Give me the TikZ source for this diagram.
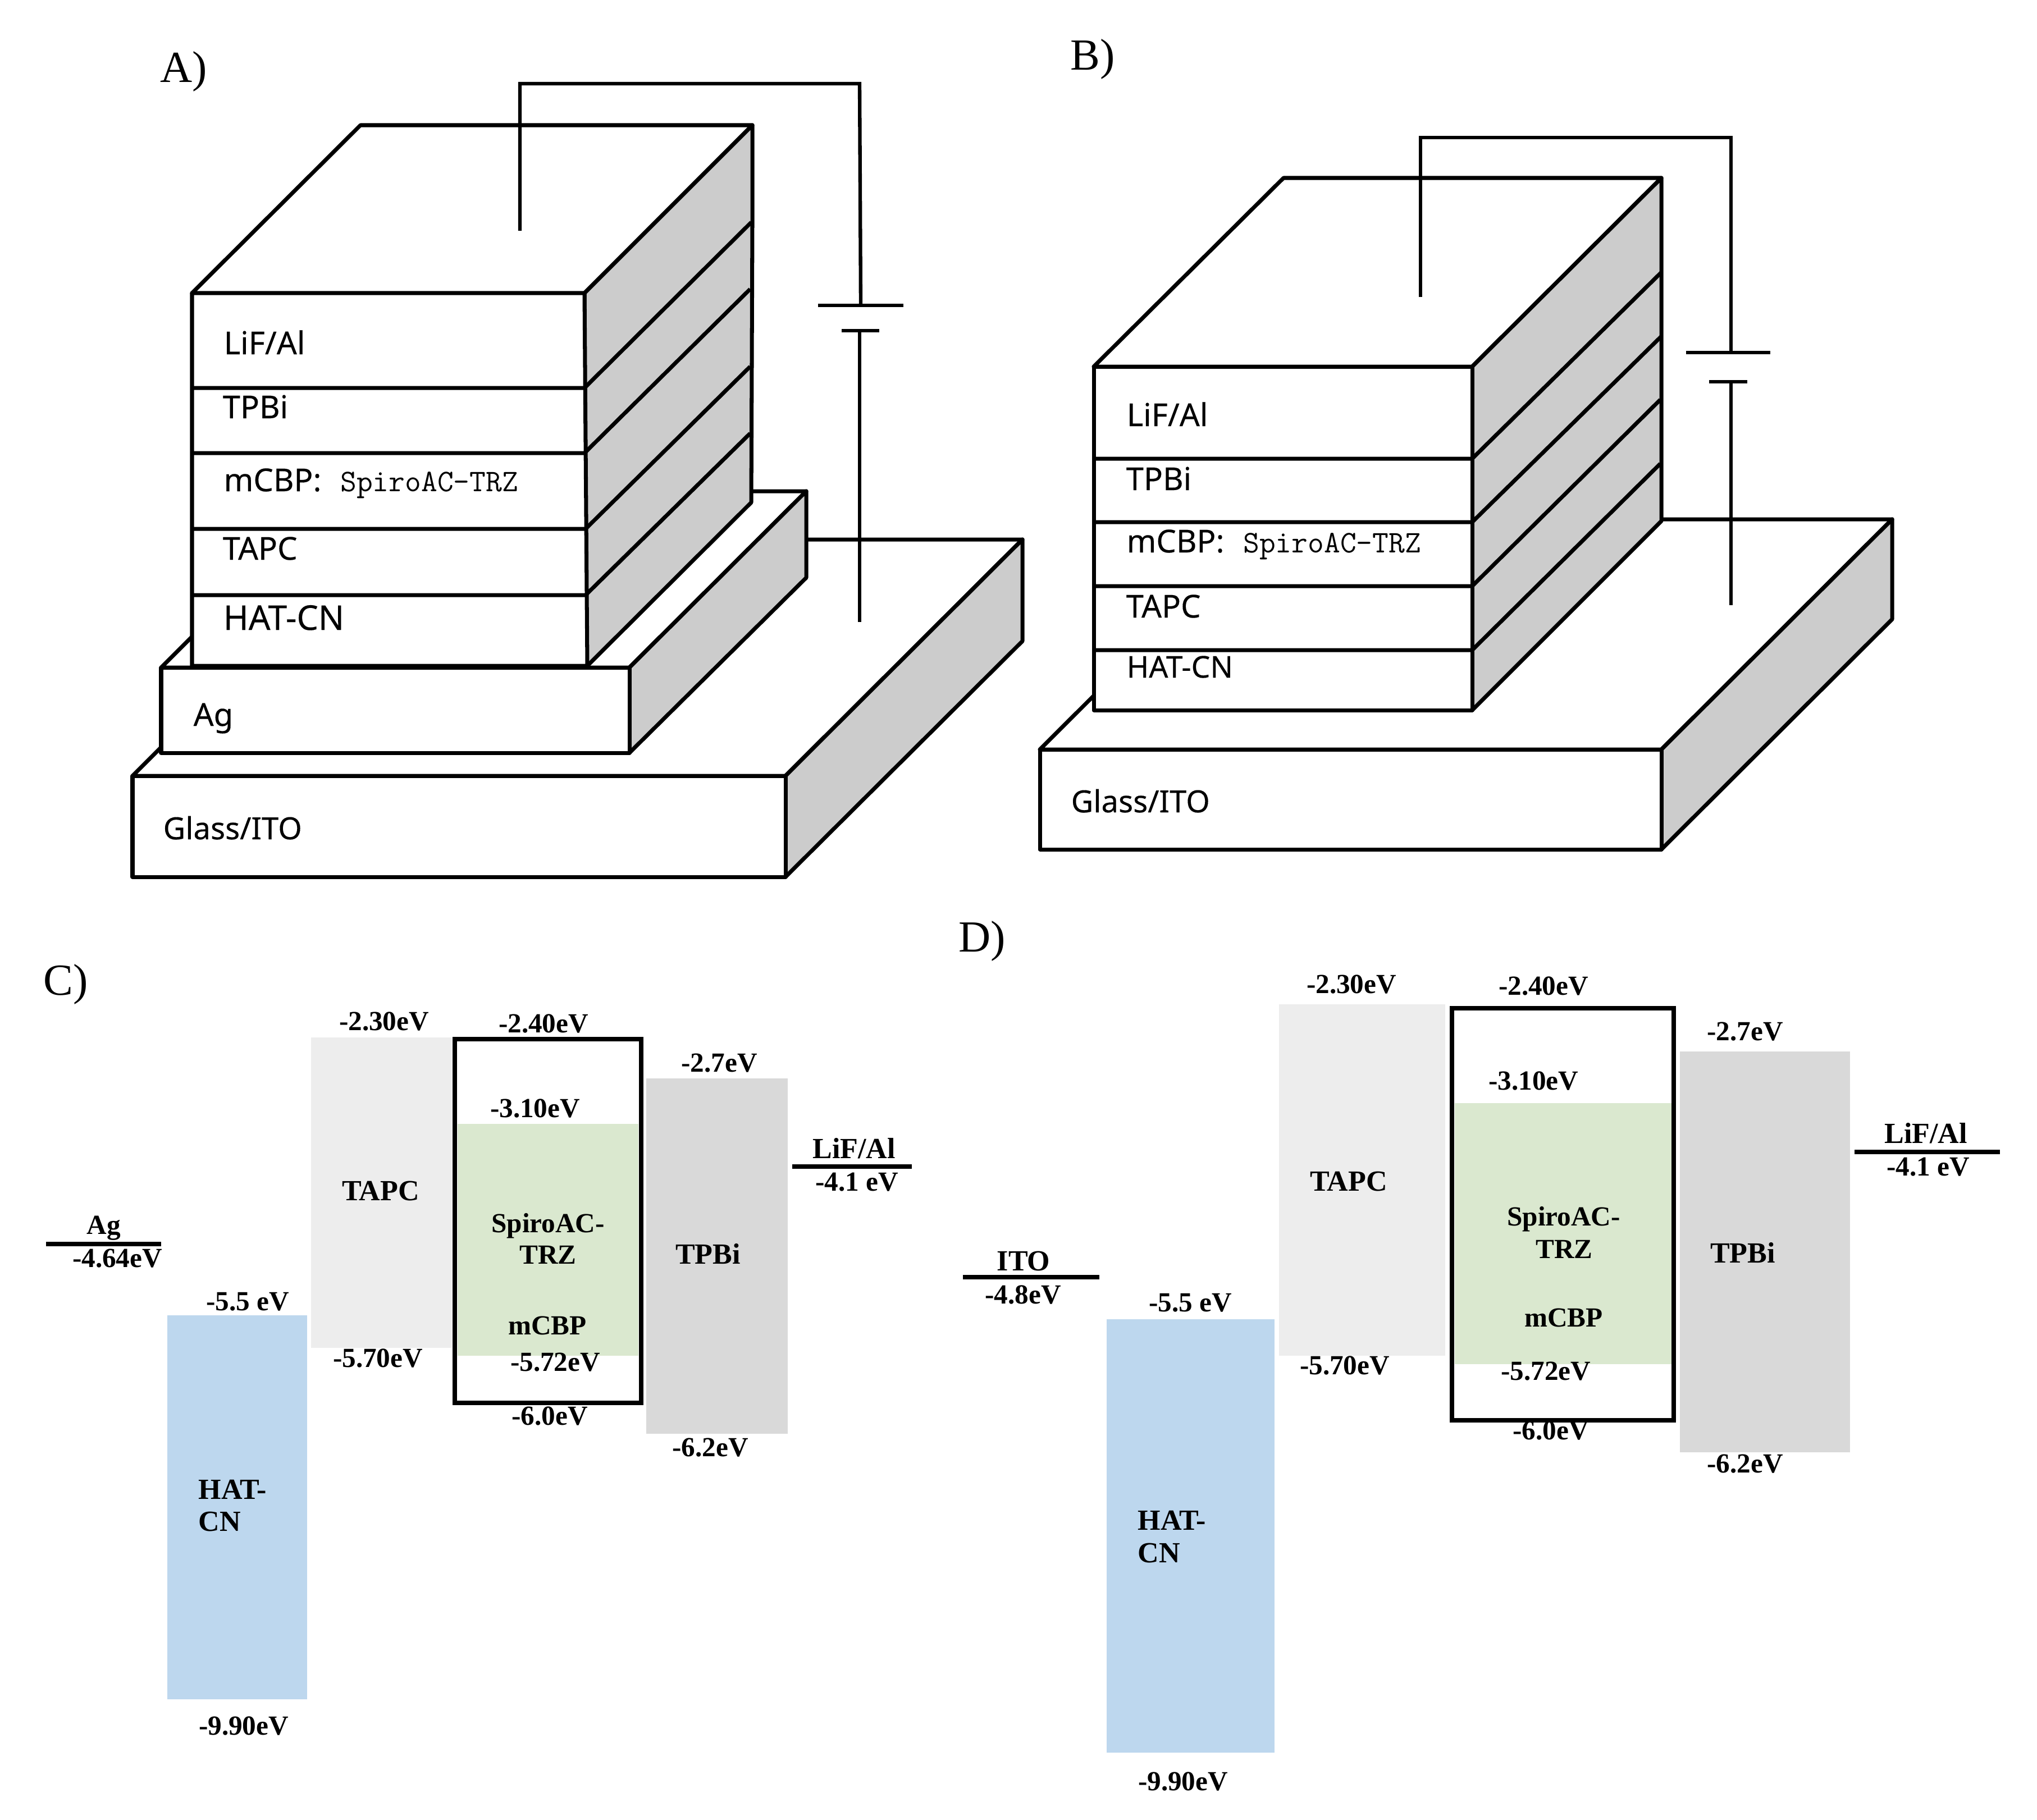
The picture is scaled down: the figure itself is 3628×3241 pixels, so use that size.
\documentclass[tikz,border=0pt]{standalone}
\usepackage{fontspec}
\setmainfont{Liberation Serif}
\newfontfamily\labfont[FakeBold=0.25]{Noto Sans}
\usetikzlibrary{calc}

\definecolor{sidegrey}{HTML}{CCCCCC}
\definecolor{tapcgrey}{HTML}{EDEDED}
\definecolor{tpbigrey}{HTML}{D9D9D9}
\definecolor{hatblue}{HTML}{BDD7EE}
\definecolor{hostgreen}{HTML}{DAE8CF}

\tikzset{
  edge/.style={line width=2pt, line join=round, draw=black},
  side/.style={edge, fill=sidegrey},
  face/.style={edge, fill=white},
  wire/.style={line width=1.8pt, draw=black},
  level/.style={line width=2.1pt, draw=black},
  lab/.style={anchor=base west, inner sep=0pt, font=\labfont\fontsize{16}{19}\selectfont},
  ev/.style={anchor=base, inner sep=0pt, font=\bfseries\fontsize{14}{17}\selectfont},
  evl/.style={ev, anchor=base west},
  mat/.style={ev, font=\bfseries\fontsize{14.8}{17}\selectfont},
  matl/.style={mat, anchor=base west},
  tag/.style={anchor=base west, inner sep=0pt, font=\fontsize{22.5}{27}\selectfont},
}
\newcommand{\emitterlabel}{mCBP:\hspace{0.6em}{\ttfamily\fontsize{15.9}{18}\selectfont SpiroAC-TRZ}}

\begin{document}
\begin{tikzpicture}[x=0.01cm, y=-0.01cm]
\useasboundingbox (0,0) rectangle (3628,3241);

% ---- A
\node[tag] (tagA) at (285,146) {A)};

% glass
\draw[face] (236,1382) -- (658,961) -- (1821,961) -- (1399,1382) -- cycle;
\draw[side] (1399,1382) -- (1821,961) -- (1821,1142) -- (1399,1562) -- cycle;
\draw[face] (236,1382) rectangle (1399,1562);
% Ag
\draw[face] (287,1189) -- (602,875) -- (1436,875) -- (1121,1189) -- cycle;
\draw[side] (1121,1189) -- (1436,875) -- (1436,1029) -- (1121,1341) -- cycle;
\draw[face] (287,1189) rectangle (1121,1341);
% stack
\draw[face] (342,522) -- (642,223) -- (1340,223) -- (1041,522) -- cycle;
\draw[side] (1041,522) -- (1340,223) -- (1340,396) -- (1338,895) -- (1046,1186) -- (1041,1186) -- cycle;
\draw[face] (342,522) -- (1041,522) -- (1046,1186) -- (342,1186) -- cycle;
\draw[edge] (342,691) -- (1041,691) -- (1338,396);
\draw[edge] (342,807) -- (1041,807) -- (1336,515);
\draw[edge] (342,942) -- (1043,942) -- (1336,653);
\draw[edge] (342,1060) -- (1043,1060) -- (1336,772);

% battery
\coordinate (aIn) at (926,411);
\coordinate (aUpL) at (926,149);
\coordinate (aUpR) at (1531,149);
\coordinate (aPos) at (1533,544);
\coordinate (aNeg) at (1531,589);
\coordinate (aOut) at (1531,1108);
\draw[wire] (aIn) -- (aUpL) -- (aUpR) -- (aPos);
\draw[wire] (aNeg) -- (aOut);
\draw[wire] (1457,544) -- (1609,544);
\draw[wire] (1499,589) -- (1566,589);

\node[lab] (aLif) at (398,631) {LiF/Al};
\node[lab] (aTpbi) at (396,745) {TPBi};
\node[lab] (aCbp) at (398,875) {\emitterlabel};
\node[lab] (aTapc) at (396,997) {TAPC};
\node[lab, font=\labfont\fontsize{17.3}{20}\selectfont] (aHat) at (397,1122) {HAT-CN};
\node[lab] (aAg) at (344,1293) {Ag};
\node[lab, font=\labfont\fontsize{15.5}{18}\selectfont] (aGlass) at (290,1495) {Glass/ITO};

% ---- B
\node[tag] (tagB) at (1906,124) {B)};

% glass
\draw[face] (1852,1335) -- (2263,925) -- (3370,925) -- (2959,1335) -- cycle;
\draw[side] (2959,1335) -- (3370,925) -- (3370,1103) -- (2959,1513) -- cycle;
\draw[face] (1852,1335) rectangle (2959,1513);
% stack
\draw[face] (1948,653) -- (2286,317) -- (2959,317) -- (2622,653) -- cycle;
\draw[side] (2622,653) -- (2959,317) -- (2959,928) -- (2622,1265) -- cycle;
\draw[face] (1948,653) rectangle (2622,1265);
\draw[edge] (1948,817) -- (2622,817) -- (2959,485);
\draw[edge] (1948,930) -- (2622,930) -- (2959,599);
\draw[edge] (1948,1044) -- (2622,1044) -- (2957,712);
\draw[edge] (1948,1158) -- (2622,1158) -- (2957,826);

% battery
\coordinate (bIn) at (2530,529);
\coordinate (bUpL) at (2530,245);
\coordinate (bUpR) at (3083,245);
\coordinate (bPos) at (3083,628);
\coordinate (bNeg) at (3083,680);
\coordinate (bOut) at (3083,1078);
\draw[wire] (bIn) -- (bUpL) -- (bUpR) -- (bPos);
\draw[wire] (bNeg) -- (bOut);
\draw[wire] (3003,628) -- (3153,628);
\draw[wire] (3044,680) -- (3112,680);

\node[lab] (bLif) at (2006,759) {LiF/Al};
\node[lab] (bTpbi) at (2005,873) {TPBi};
\node[lab] (bCbp) at (2006,984) {\emitterlabel};
\node[lab] (bTapc) at (2005,1100) {TAPC};
\node[lab, font=\labfont\fontsize{15.2}{18}\selectfont] (bHat) at (2006,1207) {HAT-CN};
\node[lab, font=\labfont\fontsize{15.5}{18}\selectfont] (bGlass) at (1907,1447) {Glass/ITO};

% ---- C
\node[tag] (tagC) at (77,1772) {C)};

\fill[tapcgrey] (554,1848) rectangle (805,2401);
\fill[hostgreen] (815,2002) rectangle (1137,2415);
\draw[line width=2.3pt] (810,1851) rectangle (1142,2499);
\fill[tpbigrey] (1151,1921) rectangle (1403,2554);
\fill[hatblue] (298,2343) rectangle (547,3027);
\draw[level] (82,2216) -- (287,2216);
\draw[level] (1411,2078) -- (1624,2078);

\node[ev] (c1) at (684,1835) {-2.30eV};
\node[ev] (c2) at (968,1839) {-2.40eV};
\node[ev] (c3) at (1281,1909) {-2.7eV};
\node[ev] (c4) at (953,1990) {-3.10eV};
\node[mat] (c5) at (1521,2063) {LiF/Al};
\node[ev] (c6) at (1526,2121) {-4.1 eV};
\node[ev] (c7) at (185,2198) {Ag};
\node[ev] (c8) at (209,2257) {-4.64eV};
\node[ev] (c9) at (441,2334) {-5.5 eV};
\node[mat] (c10) at (678,2138) {TAPC};
\node[ev] (c11) at (976,2195) {SpiroAC-};
\node[ev] (c12) at (976,2251) {TRZ};
\node[mat] (c13) at (1261,2251) {TPBi};
\node[ev] (c14) at (975,2377) {mCBP};
\node[ev] (c15) at (673,2435) {-5.70eV};
\node[ev] (c16) at (989,2442) {-5.72eV};
\node[ev] (c17) at (979,2538) {-6.0eV};
\node[ev] (c18) at (1265,2594) {-6.2eV};
\node[matl] (c19) at (353,2670) {HAT-};
\node[matl] (c20) at (353,2727) {CN};
\node[ev] (c21) at (434,3090) {-9.90eV};

% ---- D
\node[tag] (tagD) at (1707,1695) {D)};

\fill[tapcgrey] (2278,1789) rectangle (2574,2415);
\fill[hostgreen] (2591,1965) rectangle (2977,2430);
\draw[line width=2.3pt] (2586,1796) rectangle (2981,2530);
\fill[tpbigrey] (2992,1873) rectangle (3295,2587);
\fill[hatblue] (1971,2350) rectangle (2270,3122);
\draw[level] (1715,2275) -- (1958,2275);
\draw[level] (3303,2052) -- (3562,2052);

\node[ev] (d1) at (2407,1769) {-2.30eV};
\node[ev] (d2) at (2749,1772) {-2.40eV};
\node[ev] (d3) at (3108,1853) {-2.7eV};
\node[ev] (d4) at (2731,1941) {-3.10eV};
\node[mat] (d5) at (3430,2036) {LiF/Al};
\node[ev] (d6) at (3434,2094) {-4.1 eV};
\node[mat] (d7) at (1823,2263) {ITO};
\node[ev] (d8) at (1822,2322) {-4.8eV};
\node[ev] (d9) at (2120,2336) {-5.5 eV};
\node[mat] (d10) at (2402,2121) {TAPC};
\node[ev] (d11) at (2785,2183) {SpiroAC-};
\node[ev] (d12) at (2786,2241) {TRZ};
\node[mat] (d13) at (3104,2249) {TPBi};
\node[ev] (d14) at (2785,2363) {mCBP};
\node[ev] (d15) at (2395,2448) {-5.70eV};
\node[ev] (d16) at (2753,2458) {-5.72eV};
\node[ev] (d17) at (2762,2564) {-6.0eV};
\node[ev] (d18) at (3108,2623) {-6.2eV};
\node[matl] (d19) at (2026,2725) {HAT-};
\node[matl] (d20) at (2026,2783) {CN};
\node[ev] (d21) at (2107,3189) {-9.90eV};

\end{tikzpicture}
\end{document}
